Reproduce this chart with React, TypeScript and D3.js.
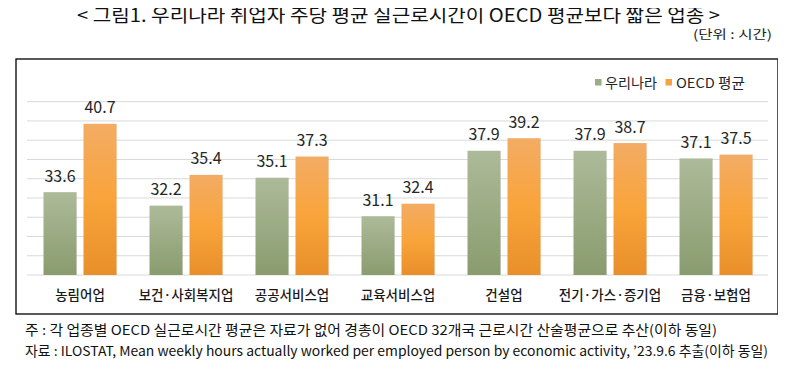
import React from 'react';
import * as d3 from 'd3';

const categories = ['농림어업', '보건·사회복지업', '공공서비스업', '교육서비스업', '건설업', '전기·가스·증기업', '금융·보험업'];
const korea = [33.6, 32.2, 35.1, 31.1, 37.9, 37.9, 37.1];
const oecd = [40.7, 35.4, 37.3, 32.4, 39.2, 38.7, 37.5];
const seriesNames = ['우리나라', 'OECD 평균'];
const gridTicks = [25, 27, 29, 31, 33, 35, 37, 39, 41, 43];

const title = '< 그림1. 우리나라 취업자 주당 평균 실근로시간이 OECD 평균보다 짧은 업종 >';
const unit = '(단위 : 시간)';
const note1 = '주 : 각 업종별 OECD 실근로시간 평균은 자료가 없어 경총이 OECD 32개국 근로시간 산술평균으로 추산(이하 동일)';
const note2 = '자료 : ILOSTAT, Mean weekly hours actually worked per employed person by economic activity, \u201923.9.6 추출(이하 동일)';

const font = '"Noto Sans CJK KR", "Noto Sans", sans-serif';

const App = () => {
    const width = 786, height = 372;

    const x0 = d3.scaleBand().domain(categories).range([27, 769]);
    const bw = x0.bandwidth();
    const x1 = d3.scaleBand().domain(seriesNames)
        .range([bw * 0.1557, bw * 0.8443])
        .paddingInner(0.175);
    const y = d3.scaleLinear().domain([25, 43]).range([275, 101.7]);

    const fills = ['url(#gGreen)', 'url(#gOrange)'];
    const series = [korea, oecd];

    return <div style={{ width, height, overflow: 'hidden', margin: -8 }}>
        <svg width={width} height={height} style={{ display: 'block', background: '#fff' }}>
            <defs>
                <linearGradient id="gGreen" x1="0" y1="0" x2="0" y2="1">
                    <stop offset="0" stopColor="#adba99" />
                    <stop offset="1" stopColor="#899c6e" />
                </linearGradient>
                <linearGradient id="gOrange" x1="0" y1="0" x2="0" y2="1">
                    <stop offset="0" stopColor="#f3ac64" />
                    <stop offset="0.5" stopColor="#f9a43b" />
                    <stop offset="1" stopColor="#e88f2a" />
                </linearGradient>
            </defs>

            <text x={77} y={22} fontFamily={font} fontSize={18} fill="#111"
                textLength={643} lengthAdjust="spacingAndGlyphs">{title}</text>
            <text x={693} y={39} fontFamily={font} fontSize={12.5} fill="#222"
                textLength={79} lengthAdjust="spacingAndGlyphs">{unit}</text>

            <rect x={16} y={59} width={762} height={255} fill="none" stroke="#000" strokeWidth={1.3} />

            {gridTicks.map(t =>
                <line key={t} x1={27} x2={768} y1={y(t)} y2={y(t)} stroke="#d9d9d9" strokeWidth={1} />
            )}

            {categories.map((c, i) =>
                <g key={c} transform={"translate(" + x0(c) + ",0)"}>
                    {series.map((s, j) =>
                        <g key={j}>
                            <rect x={(x1(seriesNames[j]) || 0) + 0.5} y={y(s[i])} width={x1.bandwidth()}
                                height={y(25) - y(s[i])} fill="#000" opacity={0.08} />
                            <rect x={x1(seriesNames[j])} y={y(s[i])} width={x1.bandwidth()}
                                height={y(25) - y(s[i])} fill={fills[j]} />
                            <text x={(x1(seriesNames[j]) || 0) + x1.bandwidth() / 2} y={y(s[i]) - 10.5}
                                textAnchor="middle" fontFamily={font} fontSize={16} fill="#262626">
                                {s[i].toFixed(1)}
                            </text>
                        </g>
                    )}
                    <text x={bw / 2} y={300} textAnchor="middle" fontFamily={font} fontSize={13.5}
                        fontWeight={500} fill="#1a1a1a">{c}</text>
                </g>
            )}

            <rect x={595} y={79} width={6.5} height={6.5} fill="#9bab84" />
            <text x={605} y={87.5} fontFamily={font} fontSize={13.5} fill="#262626"
                textLength={52} lengthAdjust="spacingAndGlyphs">{seriesNames[0]}</text>
            <rect x={665.5} y={79} width={6.5} height={6.5} fill="#f7a23f" />
            <text x={676} y={87.5} fontFamily={font} fontSize={13.5} fill="#262626"
                textLength={69} lengthAdjust="spacingAndGlyphs">{seriesNames[1]}</text>

            <text x={25} y={335} fontFamily={font} fontSize={13.5} fill="#111"
                textLength={692} lengthAdjust="spacingAndGlyphs">{note1}</text>
            <text x={25} y={356} fontFamily={font} fontSize={13.5} fill="#111"
                textLength={743} lengthAdjust="spacingAndGlyphs">{note2}</text>
        </svg>
    </div>;
};

export default App;
